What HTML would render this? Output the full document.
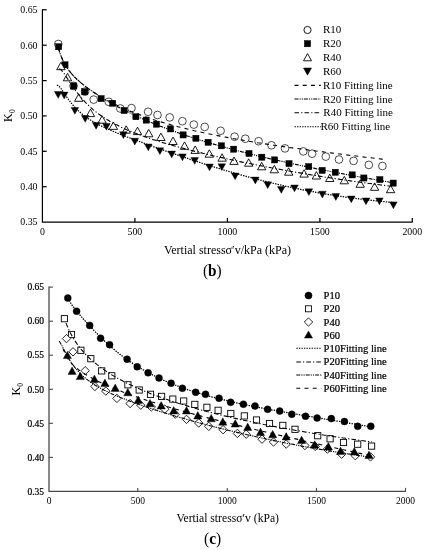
<!DOCTYPE html>
<html><head><meta charset="utf-8"><title>K0 vs vertical stress</title>
<style>html,body{margin:0;padding:0;background:#fff}body{width:427px;height:550px;overflow:hidden}.bt text{stroke:#000;stroke-width:.22px}.bt text.n{stroke:none}</style>
</head><body>
<svg width="427" height="550" viewBox="0 0 427 550" style="display:block">
<rect width="427" height="550" fill="#fff"/>
<g font-family="'Liberation Serif',serif" fill="#000">
<path d="M42.4 9.3 V222.1 H412.6" fill="none" stroke="#000" stroke-width="1.2"/>
<path d="M42.4 9.8 h4.2" stroke="#000" stroke-width="1.25"/>
<text x="37.5" y="13.1" font-size="9.9" text-anchor="end">0.65</text>
<path d="M42.4 45.2 h4.2" stroke="#000" stroke-width="1.25"/>
<text x="37.5" y="48.5" font-size="9.9" text-anchor="end">0.60</text>
<path d="M42.4 80.6 h4.2" stroke="#000" stroke-width="1.25"/>
<text x="37.5" y="83.9" font-size="9.9" text-anchor="end">0.55</text>
<path d="M42.4 115.9 h4.2" stroke="#000" stroke-width="1.25"/>
<text x="37.5" y="119.2" font-size="9.9" text-anchor="end">0.50</text>
<path d="M42.4 151.3 h4.2" stroke="#000" stroke-width="1.25"/>
<text x="37.5" y="154.6" font-size="9.9" text-anchor="end">0.45</text>
<path d="M42.4 186.7 h4.2" stroke="#000" stroke-width="1.25"/>
<text x="37.5" y="190.0" font-size="9.9" text-anchor="end">0.40</text>
<text x="37.5" y="225.4" font-size="9.9" text-anchor="end">0.35</text>
<text x="42.4" y="234.6" font-size="9.9" text-anchor="middle">0</text>
<path d="M134.9 222.1 v-4.2" stroke="#000" stroke-width="1.25"/>
<text x="134.9" y="234.6" font-size="9.9" text-anchor="middle">500</text>
<path d="M227.4 222.1 v-4.2" stroke="#000" stroke-width="1.25"/>
<text x="227.4" y="234.6" font-size="9.9" text-anchor="middle">1000</text>
<path d="M319.9 222.1 v-4.2" stroke="#000" stroke-width="1.25"/>
<text x="319.9" y="234.6" font-size="9.9" text-anchor="middle">1500</text>
<path d="M412.3 222.1 v-4.2" stroke="#000" stroke-width="1.25"/>
<text x="412.3" y="234.6" font-size="9.9" text-anchor="middle">2000</text>
<text x="227.5" y="254.1" font-size="12" text-anchor="middle">Vertial stressσ′v/kPa (kPa)</text>
<text transform="translate(11.9,115.6) rotate(-90)" font-size="12.2" text-anchor="middle">K<tspan font-size="7.5" dy="3.1">0</tspan></text>
<circle cx="58.3" cy="44.0" r="3.85" fill="#fff" stroke="#000" stroke-width="0.70"/><circle cx="73.5" cy="85.9" r="3.85" fill="#fff" stroke="#000" stroke-width="0.70"/><circle cx="85.0" cy="91.6" r="3.85" fill="#fff" stroke="#000" stroke-width="0.70"/><circle cx="93.7" cy="99.6" r="3.85" fill="#fff" stroke="#000" stroke-width="0.70"/><circle cx="108.7" cy="101.8" r="3.85" fill="#fff" stroke="#000" stroke-width="0.70"/><circle cx="120.3" cy="108.5" r="3.85" fill="#fff" stroke="#000" stroke-width="0.70"/><circle cx="131.5" cy="108.1" r="3.85" fill="#fff" stroke="#000" stroke-width="0.70"/><circle cx="148.1" cy="111.8" r="3.85" fill="#fff" stroke="#000" stroke-width="0.70"/><circle cx="157.5" cy="115.0" r="3.85" fill="#fff" stroke="#000" stroke-width="0.70"/><circle cx="169.7" cy="117.4" r="3.85" fill="#fff" stroke="#000" stroke-width="0.70"/><circle cx="182.4" cy="121.2" r="3.85" fill="#fff" stroke="#000" stroke-width="0.70"/><circle cx="193.8" cy="124.6" r="3.85" fill="#fff" stroke="#000" stroke-width="0.70"/><circle cx="204.7" cy="126.9" r="3.85" fill="#fff" stroke="#000" stroke-width="0.70"/><circle cx="220.6" cy="130.8" r="3.85" fill="#fff" stroke="#000" stroke-width="0.70"/><circle cx="234.6" cy="136.7" r="3.85" fill="#fff" stroke="#000" stroke-width="0.70"/><circle cx="245.3" cy="138.7" r="3.85" fill="#fff" stroke="#000" stroke-width="0.70"/><circle cx="258.6" cy="141.2" r="3.85" fill="#fff" stroke="#000" stroke-width="0.70"/><circle cx="271.5" cy="145.3" r="3.85" fill="#fff" stroke="#000" stroke-width="0.70"/><circle cx="285.0" cy="148.4" r="3.85" fill="#fff" stroke="#000" stroke-width="0.70"/><circle cx="303.3" cy="151.4" r="3.85" fill="#fff" stroke="#000" stroke-width="0.70"/><circle cx="312.1" cy="153.7" r="3.85" fill="#fff" stroke="#000" stroke-width="0.70"/><circle cx="325.8" cy="156.6" r="3.85" fill="#fff" stroke="#000" stroke-width="0.70"/><circle cx="339.0" cy="159.5" r="3.85" fill="#fff" stroke="#000" stroke-width="0.70"/><circle cx="353.6" cy="160.9" r="3.85" fill="#fff" stroke="#000" stroke-width="0.70"/><circle cx="368.8" cy="164.9" r="3.85" fill="#fff" stroke="#000" stroke-width="0.70"/><circle cx="382.4" cy="166.0" r="3.85" fill="#fff" stroke="#000" stroke-width="0.70"/>
<rect x="55.5" y="43.6" width="6.2" height="6.2" fill="#000" stroke="#000" stroke-width="0.40"/><rect x="61.9" y="61.7" width="6.2" height="6.2" fill="#000" stroke="#000" stroke-width="0.40"/><rect x="70.7" y="82.9" width="6.2" height="6.2" fill="#000" stroke="#000" stroke-width="0.40"/><rect x="81.7" y="88.7" width="6.2" height="6.2" fill="#000" stroke="#000" stroke-width="0.40"/><rect x="98.0" y="95.5" width="6.2" height="6.2" fill="#000" stroke="#000" stroke-width="0.40"/><rect x="109.6" y="100.2" width="6.2" height="6.2" fill="#000" stroke="#000" stroke-width="0.40"/><rect x="121.0" y="107.4" width="6.2" height="6.2" fill="#000" stroke="#000" stroke-width="0.40"/><rect x="132.8" y="113.6" width="6.2" height="6.2" fill="#000" stroke="#000" stroke-width="0.40"/><rect x="143.1" y="117.0" width="6.2" height="6.2" fill="#000" stroke="#000" stroke-width="0.40"/><rect x="153.4" y="121.1" width="6.2" height="6.2" fill="#000" stroke="#000" stroke-width="0.40"/><rect x="167.4" y="125.8" width="6.2" height="6.2" fill="#000" stroke="#000" stroke-width="0.40"/><rect x="180.0" y="131.8" width="6.2" height="6.2" fill="#000" stroke="#000" stroke-width="0.40"/><rect x="192.8" y="135.2" width="6.2" height="6.2" fill="#000" stroke="#000" stroke-width="0.40"/><rect x="205.0" y="139.2" width="6.2" height="6.2" fill="#000" stroke="#000" stroke-width="0.40"/><rect x="218.3" y="142.7" width="6.2" height="6.2" fill="#000" stroke="#000" stroke-width="0.40"/><rect x="230.5" y="146.1" width="6.2" height="6.2" fill="#000" stroke="#000" stroke-width="0.40"/><rect x="245.9" y="150.4" width="6.2" height="6.2" fill="#000" stroke="#000" stroke-width="0.40"/><rect x="258.7" y="154.1" width="6.2" height="6.2" fill="#000" stroke="#000" stroke-width="0.40"/><rect x="271.5" y="156.8" width="6.2" height="6.2" fill="#000" stroke="#000" stroke-width="0.40"/><rect x="285.9" y="160.5" width="6.2" height="6.2" fill="#000" stroke="#000" stroke-width="0.40"/><rect x="305.6" y="163.5" width="6.2" height="6.2" fill="#000" stroke="#000" stroke-width="0.40"/><rect x="319.1" y="167.3" width="6.2" height="6.2" fill="#000" stroke="#000" stroke-width="0.40"/><rect x="332.2" y="169.2" width="6.2" height="6.2" fill="#000" stroke="#000" stroke-width="0.40"/><rect x="349.1" y="171.8" width="6.2" height="6.2" fill="#000" stroke="#000" stroke-width="0.40"/><rect x="360.8" y="174.9" width="6.2" height="6.2" fill="#000" stroke="#000" stroke-width="0.40"/><rect x="376.8" y="176.5" width="6.2" height="6.2" fill="#000" stroke="#000" stroke-width="0.40"/><rect x="390.1" y="180.0" width="6.2" height="6.2" fill="#000" stroke="#000" stroke-width="0.40"/>
<path d="M60.9 62.3 L65.1 69.7 L56.7 69.7Z" fill="#fff" stroke="#000" stroke-width="0.90" stroke-linejoin="miter"/><path d="M67.5 73.4 L71.7 80.8 L63.3 80.8Z" fill="#fff" stroke="#000" stroke-width="0.90" stroke-linejoin="miter"/><path d="M78.7 93.9 L82.9 101.3 L74.5 101.3Z" fill="#fff" stroke="#000" stroke-width="0.90" stroke-linejoin="miter"/><path d="M90.5 109.2 L94.7 116.6 L86.3 116.6Z" fill="#fff" stroke="#000" stroke-width="0.90" stroke-linejoin="miter"/><path d="M102.1 115.8 L106.3 123.2 L97.9 123.2Z" fill="#fff" stroke="#000" stroke-width="0.90" stroke-linejoin="miter"/><path d="M113.4 122.0 L117.6 129.4 L109.2 129.4Z" fill="#fff" stroke="#000" stroke-width="0.90" stroke-linejoin="miter"/><path d="M126.2 125.8 L130.4 133.2 L122.0 133.2Z" fill="#fff" stroke="#000" stroke-width="0.90" stroke-linejoin="miter"/><path d="M137.5 127.2 L141.7 134.6 L133.3 134.6Z" fill="#fff" stroke="#000" stroke-width="0.90" stroke-linejoin="miter"/><path d="M148.7 129.4 L152.9 136.8 L144.5 136.8Z" fill="#fff" stroke="#000" stroke-width="0.90" stroke-linejoin="miter"/><path d="M160.9 133.1 L165.1 140.5 L156.7 140.5Z" fill="#fff" stroke="#000" stroke-width="0.90" stroke-linejoin="miter"/><path d="M173.0 137.1 L177.2 144.5 L168.8 144.5Z" fill="#fff" stroke="#000" stroke-width="0.90" stroke-linejoin="miter"/><path d="M184.5 141.9 L188.7 149.3 L180.3 149.3Z" fill="#fff" stroke="#000" stroke-width="0.90" stroke-linejoin="miter"/><path d="M195.2 146.0 L199.4 153.4 L191.0 153.4Z" fill="#fff" stroke="#000" stroke-width="0.90" stroke-linejoin="miter"/><path d="M209.3 149.8 L213.5 157.2 L205.1 157.2Z" fill="#fff" stroke="#000" stroke-width="0.90" stroke-linejoin="miter"/><path d="M222.1 153.8 L226.3 161.2 L217.9 161.2Z" fill="#fff" stroke="#000" stroke-width="0.90" stroke-linejoin="miter"/><path d="M234.0 157.0 L238.2 164.4 L229.8 164.4Z" fill="#fff" stroke="#000" stroke-width="0.90" stroke-linejoin="miter"/><path d="M248.7 158.8 L252.9 166.2 L244.5 166.2Z" fill="#fff" stroke="#000" stroke-width="0.90" stroke-linejoin="miter"/><path d="M261.7 162.4 L265.9 169.8 L257.5 169.8Z" fill="#fff" stroke="#000" stroke-width="0.90" stroke-linejoin="miter"/><path d="M274.3 165.4 L278.5 172.8 L270.1 172.8Z" fill="#fff" stroke="#000" stroke-width="0.90" stroke-linejoin="miter"/><path d="M288.7 167.8 L292.9 175.2 L284.5 175.2Z" fill="#fff" stroke="#000" stroke-width="0.90" stroke-linejoin="miter"/><path d="M304.1 169.7 L308.3 177.1 L299.9 177.1Z" fill="#fff" stroke="#000" stroke-width="0.90" stroke-linejoin="miter"/><path d="M316.4 171.6 L320.6 179.0 L312.2 179.0Z" fill="#fff" stroke="#000" stroke-width="0.90" stroke-linejoin="miter"/><path d="M329.8 174.1 L334.0 181.5 L325.6 181.5Z" fill="#fff" stroke="#000" stroke-width="0.90" stroke-linejoin="miter"/><path d="M344.3 176.4 L348.5 183.8 L340.1 183.8Z" fill="#fff" stroke="#000" stroke-width="0.90" stroke-linejoin="miter"/><path d="M360.2 179.9 L364.4 187.3 L356.0 187.3Z" fill="#fff" stroke="#000" stroke-width="0.90" stroke-linejoin="miter"/><path d="M374.6 182.9 L378.8 190.3 L370.4 190.3Z" fill="#fff" stroke="#000" stroke-width="0.90" stroke-linejoin="miter"/><path d="M390.6 185.3 L394.8 192.7 L386.4 192.7Z" fill="#fff" stroke="#000" stroke-width="0.90" stroke-linejoin="miter"/>
<path d="M58.2 98.3 L62.0 91.5 L54.4 91.5Z" fill="#000" stroke="#000" stroke-width="0.40" stroke-linejoin="miter"/><path d="M64.2 98.9 L68.0 92.1 L60.4 92.1Z" fill="#000" stroke="#000" stroke-width="0.40" stroke-linejoin="miter"/><path d="M74.9 114.2 L78.7 107.4 L71.1 107.4Z" fill="#000" stroke="#000" stroke-width="0.40" stroke-linejoin="miter"/><path d="M85.2 122.3 L89.0 115.5 L81.4 115.5Z" fill="#000" stroke="#000" stroke-width="0.40" stroke-linejoin="miter"/><path d="M96.1 129.2 L99.9 122.4 L92.3 122.4Z" fill="#000" stroke="#000" stroke-width="0.40" stroke-linejoin="miter"/><path d="M106.4 130.2 L110.2 123.4 L102.6 123.4Z" fill="#000" stroke="#000" stroke-width="0.40" stroke-linejoin="miter"/><path d="M123.4 138.6 L127.2 131.8 L119.6 131.8Z" fill="#000" stroke="#000" stroke-width="0.40" stroke-linejoin="miter"/><path d="M134.8 145.0 L138.6 138.2 L131.0 138.2Z" fill="#000" stroke="#000" stroke-width="0.40" stroke-linejoin="miter"/><path d="M148.3 150.8 L152.1 144.0 L144.5 144.0Z" fill="#000" stroke="#000" stroke-width="0.40" stroke-linejoin="miter"/><path d="M159.9 154.6 L163.7 147.8 L156.1 147.8Z" fill="#000" stroke="#000" stroke-width="0.40" stroke-linejoin="miter"/><path d="M171.7 157.9 L175.5 151.1 L167.9 151.1Z" fill="#000" stroke="#000" stroke-width="0.40" stroke-linejoin="miter"/><path d="M182.5 160.7 L186.3 153.9 L178.7 153.9Z" fill="#000" stroke="#000" stroke-width="0.40" stroke-linejoin="miter"/><path d="M194.7 164.3 L198.5 157.5 L190.9 157.5Z" fill="#000" stroke="#000" stroke-width="0.40" stroke-linejoin="miter"/><path d="M209.5 170.8 L213.3 164.0 L205.7 164.0Z" fill="#000" stroke="#000" stroke-width="0.40" stroke-linejoin="miter"/><path d="M221.8 170.6 L225.6 163.8 L218.0 163.8Z" fill="#000" stroke="#000" stroke-width="0.40" stroke-linejoin="miter"/><path d="M235.1 179.8 L238.9 173.0 L231.3 173.0Z" fill="#000" stroke="#000" stroke-width="0.40" stroke-linejoin="miter"/><path d="M255.3 183.9 L259.1 177.1 L251.5 177.1Z" fill="#000" stroke="#000" stroke-width="0.40" stroke-linejoin="miter"/><path d="M267.7 188.6 L271.5 181.8 L263.9 181.8Z" fill="#000" stroke="#000" stroke-width="0.40" stroke-linejoin="miter"/><path d="M281.3 193.3 L285.1 186.5 L277.5 186.5Z" fill="#000" stroke="#000" stroke-width="0.40" stroke-linejoin="miter"/><path d="M294.5 191.8 L298.3 185.0 L290.7 185.0Z" fill="#000" stroke="#000" stroke-width="0.40" stroke-linejoin="miter"/><path d="M308.9 195.6 L312.7 188.8 L305.1 188.8Z" fill="#000" stroke="#000" stroke-width="0.40" stroke-linejoin="miter"/><path d="M322.4 198.0 L326.2 191.2 L318.6 191.2Z" fill="#000" stroke="#000" stroke-width="0.40" stroke-linejoin="miter"/><path d="M335.8 200.4 L339.6 193.6 L332.0 193.6Z" fill="#000" stroke="#000" stroke-width="0.40" stroke-linejoin="miter"/><path d="M351.3 202.8 L355.1 196.0 L347.5 196.0Z" fill="#000" stroke="#000" stroke-width="0.40" stroke-linejoin="miter"/><path d="M366.0 204.7 L369.8 197.9 L362.2 197.9Z" fill="#000" stroke="#000" stroke-width="0.40" stroke-linejoin="miter"/><path d="M379.4 204.7 L383.2 197.9 L375.6 197.9Z" fill="#000" stroke="#000" stroke-width="0.40" stroke-linejoin="miter"/><path d="M393.4 208.7 L397.2 201.9 L389.6 201.9Z" fill="#000" stroke="#000" stroke-width="0.40" stroke-linejoin="miter"/>
<path d="M58.5 48.5 L60.8 55.6 L63.2 61.0 L65.5 65.4 L67.9 69.0 L70.2 72.1 L72.6 74.9 L74.9 77.3 L77.2 79.6 L79.6 81.8 L81.9 83.7 L84.3 85.6 L86.6 87.4 L88.9 89.1 L91.3 90.8 L93.6 92.3 L96.0 93.8 L98.3 95.3 L100.7 96.7 L103.0 98.0 L105.3 99.4 L107.7 100.6 L110.0 101.9 L112.4 103.1 L114.7 104.2 L117.0 105.3 L119.4 106.4 L121.7 107.5 L124.1 108.5 L126.4 109.6 L128.8 110.5 L131.1 111.5 L133.4 112.4 L135.8 113.3 L138.1 114.2 L140.5 115.1 L142.8 116.0 L145.1 116.8 L147.5 117.6 L149.8 118.4 L152.2 119.2 L154.5 119.9 L156.9 120.7 L159.2 121.4 L161.5 122.1 L163.9 122.8 L166.2 123.5 L168.6 124.1 L170.9 124.8 L173.2 125.4 L175.6 126.0 L177.9 126.7 L180.3 127.3 L182.6 127.9 L185.0 128.4 L187.3 129.0 L189.6 129.6 L192.0 130.1 L194.3 130.7 L196.7 131.2 L199.0 131.7 L201.3 132.2 L203.7 132.8 L206.0 133.3 L208.4 133.8 L210.7 134.2 L213.1 134.7 L215.4 135.2 L217.7 135.6 L220.1 136.1 L222.4 136.6 L224.8 137.0 L227.1 137.4 L229.4 137.9 L231.8 138.3 L234.1 138.7 L236.5 139.1 L238.8 139.5 L241.2 139.9 L243.5 140.3 L245.8 140.7 L248.2 141.1 L250.5 141.5 L252.9 141.9 L255.2 142.3 L257.5 142.7 L259.9 143.0 L262.2 143.4 L264.6 143.8 L266.9 144.1 L269.3 144.5 L271.6 144.8 L273.9 145.2 L276.3 145.5 L278.6 145.9 L281.0 146.2 L283.3 146.6 L285.6 146.9 L288.0 147.2 L290.3 147.6 L292.7 147.9 L295.0 148.2 L297.4 148.5 L299.7 148.8 L302.0 149.2 L304.4 149.5 L306.7 149.8 L309.1 150.1 L311.4 150.4 L313.7 150.7 L316.1 151.0 L318.4 151.3 L320.8 151.6 L323.1 151.9 L325.5 152.2 L327.8 152.5 L330.1 152.8 L332.5 153.1 L334.8 153.4 L337.2 153.7 L339.5 154.0 L341.8 154.3 L344.2 154.6 L346.5 154.9 L348.9 155.2 L351.2 155.5 L353.6 155.7 L355.9 156.0 L358.2 156.3 L360.6 156.6 L362.9 156.9 L365.3 157.2 L367.6 157.4 L369.9 157.7 L372.3 158.0 L374.6 158.3 L377.0 158.5 L379.3 158.8 L381.7 159.1 L384.0 159.4" fill="none" stroke="#000" stroke-width="1.10" stroke-dasharray="4 4.2"/>
<path d="M58.5 48.4 L60.6 55.0 L62.7 60.1 L64.8 64.2 L66.9 67.6 L69.1 70.6 L71.2 73.2 L73.3 75.6 L75.4 77.7 L77.5 79.7 L79.6 81.6 L81.7 83.4 L83.8 85.1 L85.9 86.8 L88.0 88.4 L90.2 89.9 L92.3 91.4 L94.4 92.8 L96.5 94.2 L98.6 95.6 L100.7 96.9 L102.8 98.2 L104.9 99.5 L107.0 100.8 L109.1 102.0 L111.3 103.2 L113.4 104.4 L115.5 105.6 L117.6 106.7 L119.7 107.8 L121.8 108.9 L123.9 110.0 L126.0 111.1 L128.1 112.1 L130.2 113.1 L132.4 114.1 L134.5 115.1 L136.6 116.1 L138.7 117.1 L140.8 118.0 L142.9 119.0 L145.0 119.9 L147.1 120.8 L149.2 121.7 L151.3 122.6 L153.5 123.4 L155.6 124.3 L157.7 125.1 L159.8 126.0 L161.9 126.8 L164.0 127.6 L166.1 128.4 L168.2 129.2 L170.3 130.0 L172.4 130.7 L174.6 131.5 L176.7 132.3 L178.8 133.0 L180.9 133.7 L183.0 134.5 L185.1 135.2 L187.2 135.9 L189.3 136.6 L191.4 137.3 L193.5 138.0 L195.7 138.6 L197.8 139.3 L199.9 140.0 L202.0 140.6 L204.1 141.3 L206.2 141.9 L208.3 142.5 L210.4 143.2 L212.5 143.8 L214.6 144.4 L216.8 145.0 L218.9 145.6 L221.0 146.2 L223.1 146.8 L225.2 147.4 L227.3 148.0 L229.4 148.5 L231.5 149.1 L233.6 149.7 L235.7 150.2 L237.9 150.8 L240.0 151.3 L242.1 151.9 L244.2 152.4 L246.3 153.0 L248.4 153.5 L250.5 154.0 L252.6 154.5 L254.7 155.0 L256.8 155.6 L259.0 156.1 L261.1 156.6 L263.2 157.1 L265.3 157.6 L267.4 158.1 L269.5 158.6 L271.6 159.0 L273.7 159.5 L275.8 160.0 L277.9 160.5 L280.1 161.0 L282.2 161.4 L284.3 161.9 L286.4 162.4 L288.5 162.8 L290.6 163.3 L292.7 163.7 L294.8 164.2 L296.9 164.6 L299.0 165.1 L301.2 165.5 L303.3 166.0 L305.4 166.4 L307.5 166.8 L309.6 167.3 L311.7 167.7 L313.8 168.1 L315.9 168.6 L318.0 169.0 L320.1 169.4 L322.3 169.8 L324.4 170.2 L326.5 170.6 L328.6 171.1 L330.7 171.5 L332.8 171.9 L334.9 172.3 L337.0 172.7 L339.1 173.1 L341.2 173.5 L343.4 173.9 L345.5 174.3 L347.6 174.7 L349.7 175.1 L351.8 175.5 L353.9 175.8 L356.0 176.2 L358.1 176.6 L360.2 177.0 L362.3 177.4 L364.5 177.8 L366.6 178.1 L368.7 178.5 L370.8 178.9 L372.9 179.3 L375.0 179.6 L377.1 180.0 L379.2 180.4 L381.3 180.7 L383.4 181.1 L385.6 181.5 L387.7 181.8 L389.8 182.2 L391.9 182.6 L394.0 182.9" fill="none" stroke="#000" stroke-width="1.10" stroke-dasharray="4 1 1.2 1 1.2 1"/>
<path d="M59.2 68.6 L61.6 70.4 L64.0 73.4 L66.4 77.0 L68.8 80.7 L71.2 84.3 L73.7 87.8 L76.1 91.2 L78.5 94.3 L80.9 97.3 L83.3 100.0 L85.7 102.6 L88.1 105.0 L90.5 107.3 L92.9 109.4 L95.3 111.4 L97.7 113.3 L100.1 115.0 L102.6 116.7 L105.0 118.3 L107.4 119.8 L109.8 121.2 L112.2 122.6 L114.6 123.9 L117.0 125.1 L119.4 126.3 L121.8 127.5 L124.2 128.6 L126.6 129.7 L129.1 130.7 L131.5 131.7 L133.9 132.7 L136.3 133.6 L138.7 134.5 L141.1 135.4 L143.5 136.3 L145.9 137.1 L148.3 138.0 L150.7 138.8 L153.1 139.6 L155.5 140.3 L158.0 141.1 L160.4 141.8 L162.8 142.6 L165.2 143.3 L167.6 144.0 L170.0 144.7 L172.4 145.4 L174.8 146.0 L177.2 146.7 L179.6 147.4 L182.0 148.0 L184.4 148.6 L186.9 149.3 L189.3 149.9 L191.7 150.5 L194.1 151.1 L196.5 151.7 L198.9 152.3 L201.3 152.9 L203.7 153.5 L206.1 154.1 L208.5 154.6 L210.9 155.2 L213.4 155.8 L215.8 156.3 L218.2 156.9 L220.6 157.4 L223.0 157.9 L225.4 158.5 L227.8 159.0 L230.2 159.5 L232.6 160.0 L235.0 160.5 L237.4 161.1 L239.8 161.6 L242.3 162.1 L244.7 162.6 L247.1 163.1 L249.5 163.5 L251.9 164.0 L254.3 164.5 L256.7 165.0 L259.1 165.5 L261.5 165.9 L263.9 166.4 L266.3 166.9 L268.8 167.3 L271.2 167.8 L273.6 168.2 L276.0 168.7 L278.4 169.1 L280.8 169.5 L283.2 170.0 L285.6 170.4 L288.0 170.8 L290.4 171.3 L292.8 171.7 L295.2 172.1 L297.7 172.5 L300.1 172.9 L302.5 173.4 L304.9 173.8 L307.3 174.2 L309.7 174.6 L312.1 175.0 L314.5 175.3 L316.9 175.7 L319.3 176.1 L321.7 176.5 L324.1 176.9 L326.6 177.3 L329.0 177.6 L331.4 178.0 L333.8 178.4 L336.2 178.7 L338.6 179.1 L341.0 179.5 L343.4 179.8 L345.8 180.2 L348.2 180.5 L350.6 180.9 L353.1 181.2 L355.5 181.5 L357.9 181.9 L360.3 182.2 L362.7 182.5 L365.1 182.9 L367.5 183.2 L369.9 183.5 L372.3 183.8 L374.7 184.2 L377.1 184.5 L379.5 184.8 L382.0 185.1 L384.4 185.4 L386.8 185.7 L389.2 186.0 L391.6 186.3 L394.0 186.6" fill="none" stroke="#000" stroke-width="1.10" stroke-dasharray="4.6 2.1 1.2 2.1"/>
<path d="M56.9 85.0 L59.3 86.6 L61.8 89.7 L64.2 93.3 L66.6 96.9 L69.0 100.2 L71.5 103.4 L73.9 106.2 L76.3 108.8 L78.7 111.1 L81.2 113.3 L83.6 115.3 L86.0 117.1 L88.4 118.7 L90.9 120.3 L93.3 121.7 L95.7 123.1 L98.1 124.4 L100.6 125.6 L103.0 126.8 L105.4 127.9 L107.8 129.0 L110.3 130.1 L112.7 131.2 L115.1 132.2 L117.5 133.2 L120.0 134.1 L122.4 135.1 L124.8 136.0 L127.2 137.0 L129.7 137.9 L132.1 138.8 L134.5 139.7 L136.9 140.6 L139.4 141.5 L141.8 142.4 L144.2 143.3 L146.6 144.2 L149.1 145.1 L151.5 145.9 L153.9 146.8 L156.3 147.7 L158.8 148.5 L161.2 149.4 L163.6 150.2 L166.0 151.1 L168.5 151.9 L170.9 152.8 L173.3 153.6 L175.7 154.4 L178.2 155.3 L180.6 156.1 L183.0 156.9 L185.4 157.7 L187.9 158.5 L190.3 159.4 L192.7 160.2 L195.1 160.9 L197.6 161.7 L200.0 162.5 L202.4 163.3 L204.8 164.1 L207.3 164.9 L209.7 165.6 L212.1 166.4 L214.5 167.1 L217.0 167.9 L219.4 168.6 L221.8 169.3 L224.2 170.1 L226.7 170.8 L229.1 171.5 L231.5 172.2 L233.9 172.9 L236.4 173.6 L238.8 174.3 L241.2 175.0 L243.6 175.6 L246.1 176.3 L248.5 177.0 L250.9 177.6 L253.3 178.3 L255.8 178.9 L258.2 179.5 L260.6 180.2 L263.0 180.8 L265.5 181.4 L267.9 182.0 L270.3 182.6 L272.7 183.2 L275.2 183.7 L277.6 184.3 L280.0 184.9 L282.4 185.4 L284.9 186.0 L287.3 186.5 L289.7 187.0 L292.1 187.6 L294.6 188.1 L297.0 188.6 L299.4 189.1 L301.8 189.6 L304.3 190.1 L306.7 190.5 L309.1 191.0 L311.5 191.5 L314.0 191.9 L316.4 192.4 L318.8 192.8 L321.2 193.2 L323.7 193.7 L326.1 194.1 L328.5 194.5 L330.9 194.9 L333.4 195.3 L335.8 195.6 L338.2 196.0 L340.6 196.4 L343.1 196.7 L345.5 197.1 L347.9 197.4 L350.3 197.8 L352.8 198.1 L355.2 198.4 L357.6 198.7 L360.0 199.0 L362.5 199.3 L364.9 199.6 L367.3 199.9 L369.7 200.2 L372.2 200.4 L374.6 200.7 L377.0 200.9 L379.4 201.2 L381.9 201.4 L384.3 201.7 L386.7 201.9 L389.1 202.1 L391.6 202.3 L394.0 202.5" fill="none" stroke="#000" stroke-width="1.30" stroke-dasharray="1.4 1.15"/>
<circle cx="307.5" cy="30.0" r="3.60" fill="#fff" stroke="#000" stroke-width="0.90"/>
<rect x="304.4" y="40.6" width="6.2" height="6.2" fill="#000" stroke="#000" stroke-width="0.50"/>
<path d="M307.5 53.6 L311.5 60.8 L303.5 60.8Z" fill="#fff" stroke="#000" stroke-width="0.90" stroke-linejoin="miter"/>
<path d="M307.5 75.2 L311.5 68.0 L303.5 68.0Z" fill="#000" stroke="#000" stroke-width="0.50" stroke-linejoin="miter"/>
<text x="323" y="33.3" font-size="11">R10</text>
<text x="323" y="47.2" font-size="11">R20</text>
<text x="323" y="61.3" font-size="11">R40</text>
<text x="323" y="75.1" font-size="11">R60</text>
<path d="M294.5 85.4 L320.8 85.4" fill="none" stroke="#000" stroke-width="1.10" stroke-dasharray="4 4.2"/>
<text x="323.0" y="88.9" font-size="11">R10 Fitting line</text>
<path d="M294.5 99.0 L320.8 99.0" fill="none" stroke="#000" stroke-width="1.10" stroke-dasharray="4 1 1.2 1 1.2 1"/>
<text x="323.0" y="102.6" font-size="11">R20 Fitting line</text>
<path d="M294.5 112.8 L320.8 112.8" fill="none" stroke="#000" stroke-width="1.10" stroke-dasharray="4.6 2.1 1.2 2.1"/>
<text x="323.3" y="116.4" font-size="11">R40 Fitting line</text>
<path d="M294.5 126.7 L320.8 126.7" fill="none" stroke="#000" stroke-width="1.10" stroke-dasharray="1.4 1.15"/>
<text x="320.5" y="130.1" font-size="11">R60 Fitting line</text>
<text transform="translate(212.3,276) scale(1.02,1.12)" font-size="15" text-anchor="middle">(<tspan font-weight="bold">b</tspan>)</text>
</g>
<g class="bt" font-family="'Liberation Serif',serif" fill="#000">
<path d="M49.0 286.6 V491.4 H405.9" fill="none" stroke="#4a4a4a" stroke-width="1.3"/>
<path d="M49.0 287.1 h4" stroke="#4a4a4a" stroke-width="1.1"/>
<text x="44" y="290.3" font-size="9.5" text-anchor="end">0.65</text>
<path d="M49.0 321.2 h4" stroke="#4a4a4a" stroke-width="1.1"/>
<text x="44" y="324.4" font-size="9.5" text-anchor="end">0.60</text>
<path d="M49.0 355.2 h4" stroke="#4a4a4a" stroke-width="1.1"/>
<text x="44" y="358.4" font-size="9.5" text-anchor="end">0.55</text>
<path d="M49.0 389.3 h4" stroke="#4a4a4a" stroke-width="1.1"/>
<text x="44" y="392.5" font-size="9.5" text-anchor="end">0.50</text>
<path d="M49.0 423.3 h4" stroke="#4a4a4a" stroke-width="1.1"/>
<text x="44" y="426.5" font-size="9.5" text-anchor="end">0.45</text>
<path d="M49.0 457.4 h4" stroke="#4a4a4a" stroke-width="1.1"/>
<text x="44" y="460.6" font-size="9.5" text-anchor="end">0.40</text>
<text x="44" y="494.6" font-size="9.5" text-anchor="end">0.35</text>
<text class="n" x="49.0" y="503.6" font-size="9.5" text-anchor="middle">0</text>
<path d="M137.8 491.4 v-3.5" stroke="#4a4a4a" stroke-width="1.1"/>
<text class="n" x="137.8" y="503.6" font-size="9.5" text-anchor="middle">500</text>
<path d="M227.3 491.4 v-3.5" stroke="#4a4a4a" stroke-width="1.1"/>
<text class="n" x="227.3" y="503.6" font-size="9.5" text-anchor="middle">1000</text>
<path d="M316.5 491.4 v-3.5" stroke="#4a4a4a" stroke-width="1.1"/>
<text class="n" x="316.5" y="503.6" font-size="9.5" text-anchor="middle">1500</text>
<path d="M405.5 491.4 v-3.5" stroke="#4a4a4a" stroke-width="1.1"/>
<text class="n" x="405.5" y="503.6" font-size="9.5" text-anchor="middle">2000</text>
<text class="n" x="227.7" y="521.5" font-size="11.65" text-anchor="middle">Vertial stressσ′v (kPa)</text>
<text class="n" transform="translate(19.8,389.3) rotate(-90)" font-size="12.2" text-anchor="middle">K<tspan font-size="7.5" dy="3.1">0</tspan></text>
<circle cx="67.8" cy="298.1" r="3.50" fill="#000" stroke="#000" stroke-width="0.40"/><circle cx="76.6" cy="311.2" r="3.50" fill="#000" stroke="#000" stroke-width="0.40"/><circle cx="89.7" cy="325.4" r="3.50" fill="#000" stroke="#000" stroke-width="0.40"/><circle cx="100.6" cy="338.2" r="3.50" fill="#000" stroke="#000" stroke-width="0.40"/><circle cx="109.6" cy="344.8" r="3.50" fill="#000" stroke="#000" stroke-width="0.40"/><circle cx="127.1" cy="359.2" r="3.50" fill="#000" stroke="#000" stroke-width="0.40"/><circle cx="137.2" cy="366.8" r="3.50" fill="#000" stroke="#000" stroke-width="0.40"/><circle cx="148.1" cy="372.8" r="3.50" fill="#000" stroke="#000" stroke-width="0.40"/><circle cx="159.0" cy="378.0" r="3.50" fill="#000" stroke="#000" stroke-width="0.40"/><circle cx="171.1" cy="383.2" r="3.50" fill="#000" stroke="#000" stroke-width="0.40"/><circle cx="182.4" cy="388.3" r="3.50" fill="#000" stroke="#000" stroke-width="0.40"/><circle cx="195.7" cy="392.3" r="3.50" fill="#000" stroke="#000" stroke-width="0.40"/><circle cx="205.5" cy="394.3" r="3.50" fill="#000" stroke="#000" stroke-width="0.40"/><circle cx="219.0" cy="398.2" r="3.50" fill="#000" stroke="#000" stroke-width="0.40"/><circle cx="230.6" cy="402.3" r="3.50" fill="#000" stroke="#000" stroke-width="0.40"/><circle cx="243.4" cy="404.2" r="3.50" fill="#000" stroke="#000" stroke-width="0.40"/><circle cx="255.0" cy="406.1" r="3.50" fill="#000" stroke="#000" stroke-width="0.40"/><circle cx="267.6" cy="409.3" r="3.50" fill="#000" stroke="#000" stroke-width="0.40"/><circle cx="279.7" cy="411.1" r="3.50" fill="#000" stroke="#000" stroke-width="0.40"/><circle cx="291.8" cy="414.3" r="3.50" fill="#000" stroke="#000" stroke-width="0.40"/><circle cx="305.5" cy="416.3" r="3.50" fill="#000" stroke="#000" stroke-width="0.40"/><circle cx="317.1" cy="418.0" r="3.50" fill="#000" stroke="#000" stroke-width="0.40"/><circle cx="331.3" cy="418.6" r="3.50" fill="#000" stroke="#000" stroke-width="0.40"/><circle cx="344.4" cy="421.5" r="3.50" fill="#000" stroke="#000" stroke-width="0.40"/><circle cx="357.7" cy="426.3" r="3.50" fill="#000" stroke="#000" stroke-width="0.40"/><circle cx="370.8" cy="426.3" r="3.50" fill="#000" stroke="#000" stroke-width="0.40"/>
<rect x="61.3" y="315.6" width="6.2" height="6.2" fill="#fff" stroke="#000" stroke-width="0.90"/><rect x="68.4" y="331.4" width="6.2" height="6.2" fill="#fff" stroke="#000" stroke-width="0.90"/><rect x="77.8" y="347.2" width="6.2" height="6.2" fill="#fff" stroke="#000" stroke-width="0.90"/><rect x="87.7" y="355.6" width="6.2" height="6.2" fill="#fff" stroke="#000" stroke-width="0.90"/><rect x="98.6" y="367.8" width="6.2" height="6.2" fill="#fff" stroke="#000" stroke-width="0.90"/><rect x="108.7" y="372.7" width="6.2" height="6.2" fill="#fff" stroke="#000" stroke-width="0.90"/><rect x="124.8" y="381.7" width="6.2" height="6.2" fill="#fff" stroke="#000" stroke-width="0.90"/><rect x="136.1" y="386.9" width="6.2" height="6.2" fill="#fff" stroke="#000" stroke-width="0.90"/><rect x="147.4" y="391.2" width="6.2" height="6.2" fill="#fff" stroke="#000" stroke-width="0.90"/><rect x="158.5" y="393.3" width="6.2" height="6.2" fill="#fff" stroke="#000" stroke-width="0.90"/><rect x="169.7" y="396.0" width="6.2" height="6.2" fill="#fff" stroke="#000" stroke-width="0.90"/><rect x="180.6" y="397.9" width="6.2" height="6.2" fill="#fff" stroke="#000" stroke-width="0.90"/><rect x="191.7" y="401.3" width="6.2" height="6.2" fill="#fff" stroke="#000" stroke-width="0.90"/><rect x="203.8" y="404.2" width="6.2" height="6.2" fill="#fff" stroke="#000" stroke-width="0.90"/><rect x="215.0" y="407.2" width="6.2" height="6.2" fill="#fff" stroke="#000" stroke-width="0.90"/><rect x="227.7" y="410.4" width="6.2" height="6.2" fill="#fff" stroke="#000" stroke-width="0.90"/><rect x="241.2" y="412.8" width="6.2" height="6.2" fill="#fff" stroke="#000" stroke-width="0.90"/><rect x="253.4" y="416.9" width="6.2" height="6.2" fill="#fff" stroke="#000" stroke-width="0.90"/><rect x="266.4" y="420.4" width="6.2" height="6.2" fill="#fff" stroke="#000" stroke-width="0.90"/><rect x="279.7" y="422.3" width="6.2" height="6.2" fill="#fff" stroke="#000" stroke-width="0.90"/><rect x="291.9" y="426.2" width="6.2" height="6.2" fill="#fff" stroke="#000" stroke-width="0.90"/><rect x="314.6" y="432.6" width="6.2" height="6.2" fill="#fff" stroke="#000" stroke-width="0.90"/><rect x="327.0" y="435.7" width="6.2" height="6.2" fill="#fff" stroke="#000" stroke-width="0.90"/><rect x="340.4" y="439.4" width="6.2" height="6.2" fill="#fff" stroke="#000" stroke-width="0.90"/><rect x="354.6" y="441.1" width="6.2" height="6.2" fill="#fff" stroke="#000" stroke-width="0.90"/><rect x="368.5" y="443.0" width="6.2" height="6.2" fill="#fff" stroke="#000" stroke-width="0.90"/>
<path d="M66.5 334.4 L70.7 338.6 L66.5 342.8 L62.3 338.6Z" fill="#fff" stroke="#000" stroke-width="0.85"/><path d="M73.0 347.6 L77.2 351.8 L73.0 356.0 L68.8 351.8Z" fill="#fff" stroke="#000" stroke-width="0.85"/><path d="M85.2 366.5 L89.4 370.7 L85.2 374.9 L81.0 370.7Z" fill="#fff" stroke="#000" stroke-width="0.85"/><path d="M94.9 382.3 L99.1 386.5 L94.9 390.7 L90.7 386.5Z" fill="#fff" stroke="#000" stroke-width="0.85"/><path d="M105.8 386.9 L110.0 391.1 L105.8 395.3 L101.6 391.1Z" fill="#fff" stroke="#000" stroke-width="0.85"/><path d="M116.9 394.2 L121.1 398.4 L116.9 402.6 L112.7 398.4Z" fill="#fff" stroke="#000" stroke-width="0.85"/><path d="M130.1 399.3 L134.3 403.5 L130.1 407.7 L125.9 403.5Z" fill="#fff" stroke="#000" stroke-width="0.85"/><path d="M140.8 401.0 L145.0 405.2 L140.8 409.4 L136.6 405.2Z" fill="#fff" stroke="#000" stroke-width="0.85"/><path d="M151.3 402.8 L155.5 407.0 L151.3 411.2 L147.1 407.0Z" fill="#fff" stroke="#000" stroke-width="0.85"/><path d="M164.8 405.0 L169.0 409.2 L164.8 413.4 L160.6 409.2Z" fill="#fff" stroke="#000" stroke-width="0.85"/><path d="M175.2 410.0 L179.4 414.2 L175.2 418.4 L171.0 414.2Z" fill="#fff" stroke="#000" stroke-width="0.85"/><path d="M186.5 415.2 L190.7 419.4 L186.5 423.6 L182.3 419.4Z" fill="#fff" stroke="#000" stroke-width="0.85"/><path d="M198.7 418.8 L202.9 423.0 L198.7 427.2 L194.5 423.0Z" fill="#fff" stroke="#000" stroke-width="0.85"/><path d="M208.7 422.1 L212.9 426.3 L208.7 430.5 L204.5 426.3Z" fill="#fff" stroke="#000" stroke-width="0.85"/><path d="M223.1 425.5 L227.3 429.7 L223.1 433.9 L218.9 429.7Z" fill="#fff" stroke="#000" stroke-width="0.85"/><path d="M237.4 429.2 L241.6 433.4 L237.4 437.6 L233.2 433.4Z" fill="#fff" stroke="#000" stroke-width="0.85"/><path d="M246.2 430.0 L250.4 434.2 L246.2 438.4 L242.0 434.2Z" fill="#fff" stroke="#000" stroke-width="0.85"/><path d="M262.0 435.0 L266.2 439.2 L262.0 443.4 L257.8 439.2Z" fill="#fff" stroke="#000" stroke-width="0.85"/><path d="M273.5 437.8 L277.7 442.0 L273.5 446.2 L269.3 442.0Z" fill="#fff" stroke="#000" stroke-width="0.85"/><path d="M286.2 439.9 L290.4 444.1 L286.2 448.3 L282.0 444.1Z" fill="#fff" stroke="#000" stroke-width="0.85"/><path d="M304.9 441.3 L309.1 445.5 L304.9 449.7 L300.7 445.5Z" fill="#fff" stroke="#000" stroke-width="0.85"/><path d="M315.2 442.2 L319.4 446.4 L315.2 450.6 L311.0 446.4Z" fill="#fff" stroke="#000" stroke-width="0.85"/><path d="M327.4 444.9 L331.6 449.1 L327.4 453.3 L323.2 449.1Z" fill="#fff" stroke="#000" stroke-width="0.85"/><path d="M341.6 450.0 L345.8 454.2 L341.6 458.4 L337.4 454.2Z" fill="#fff" stroke="#000" stroke-width="0.85"/><path d="M355.3 451.5 L359.5 455.7 L355.3 459.9 L351.1 455.7Z" fill="#fff" stroke="#000" stroke-width="0.85"/><path d="M370.5 452.7 L374.7 456.9 L370.5 461.1 L366.3 456.9Z" fill="#fff" stroke="#000" stroke-width="0.85"/>
<path d="M67.4 351.2 L71.5 358.6 L63.3 358.6Z" fill="#000" stroke="#000" stroke-width="0.40" stroke-linejoin="miter"/><path d="M72.1 367.0 L76.2 374.4 L68.0 374.4Z" fill="#000" stroke="#000" stroke-width="0.40" stroke-linejoin="miter"/><path d="M80.2 372.2 L84.3 379.6 L76.1 379.6Z" fill="#000" stroke="#000" stroke-width="0.40" stroke-linejoin="miter"/><path d="M94.4 375.0 L98.5 382.4 L90.3 382.4Z" fill="#000" stroke="#000" stroke-width="0.40" stroke-linejoin="miter"/><path d="M104.9 379.0 L109.0 386.4 L100.8 386.4Z" fill="#000" stroke="#000" stroke-width="0.40" stroke-linejoin="miter"/><path d="M115.2 384.0 L119.3 391.4 L111.1 391.4Z" fill="#000" stroke="#000" stroke-width="0.40" stroke-linejoin="miter"/><path d="M127.8 388.4 L131.9 395.8 L123.7 395.8Z" fill="#000" stroke="#000" stroke-width="0.40" stroke-linejoin="miter"/><path d="M138.2 396.0 L142.3 403.4 L134.1 403.4Z" fill="#000" stroke="#000" stroke-width="0.40" stroke-linejoin="miter"/><path d="M150.0 399.4 L154.1 406.8 L145.9 406.8Z" fill="#000" stroke="#000" stroke-width="0.40" stroke-linejoin="miter"/><path d="M161.2 401.6 L165.3 409.0 L157.1 409.0Z" fill="#000" stroke="#000" stroke-width="0.40" stroke-linejoin="miter"/><path d="M173.7 406.6 L177.8 414.0 L169.6 414.0Z" fill="#000" stroke="#000" stroke-width="0.40" stroke-linejoin="miter"/><path d="M186.5 406.6 L190.6 414.0 L182.4 414.0Z" fill="#000" stroke="#000" stroke-width="0.40" stroke-linejoin="miter"/><path d="M197.8 411.6 L201.9 419.0 L193.7 419.0Z" fill="#000" stroke="#000" stroke-width="0.40" stroke-linejoin="miter"/><path d="M211.2 414.4 L215.3 421.8 L207.1 421.8Z" fill="#000" stroke="#000" stroke-width="0.40" stroke-linejoin="miter"/><path d="M222.8 417.8 L226.9 425.2 L218.7 425.2Z" fill="#000" stroke="#000" stroke-width="0.40" stroke-linejoin="miter"/><path d="M235.3 419.7 L239.4 427.1 L231.2 427.1Z" fill="#000" stroke="#000" stroke-width="0.40" stroke-linejoin="miter"/><path d="M247.7 423.1 L251.8 430.5 L243.6 430.5Z" fill="#000" stroke="#000" stroke-width="0.40" stroke-linejoin="miter"/><path d="M260.5 428.1 L264.6 435.5 L256.4 435.5Z" fill="#000" stroke="#000" stroke-width="0.40" stroke-linejoin="miter"/><path d="M272.7 430.4 L276.8 437.8 L268.6 437.8Z" fill="#000" stroke="#000" stroke-width="0.40" stroke-linejoin="miter"/><path d="M286.2 432.6 L290.3 440.0 L282.1 440.0Z" fill="#000" stroke="#000" stroke-width="0.40" stroke-linejoin="miter"/><path d="M301.6 436.1 L305.7 443.5 L297.5 443.5Z" fill="#000" stroke="#000" stroke-width="0.40" stroke-linejoin="miter"/><path d="M314.7 440.7 L318.8 448.1 L310.6 448.1Z" fill="#000" stroke="#000" stroke-width="0.40" stroke-linejoin="miter"/><path d="M328.4 442.6 L332.5 450.0 L324.3 450.0Z" fill="#000" stroke="#000" stroke-width="0.40" stroke-linejoin="miter"/><path d="M340.5 447.1 L344.6 454.5 L336.4 454.5Z" fill="#000" stroke="#000" stroke-width="0.40" stroke-linejoin="miter"/><path d="M354.3 447.6 L358.4 455.0 L350.2 455.0Z" fill="#000" stroke="#000" stroke-width="0.40" stroke-linejoin="miter"/><path d="M369.0 451.1 L373.1 458.5 L364.9 458.5Z" fill="#000" stroke="#000" stroke-width="0.40" stroke-linejoin="miter"/>
<path d="M67.8 298.1 L70.0 302.0 L72.2 305.3 L74.4 308.2 L76.6 311.0 L78.7 313.6 L80.9 316.2 L83.1 318.7 L85.3 321.1 L87.5 323.5 L89.7 325.9 L91.9 328.3 L94.1 330.6 L96.3 332.8 L98.4 335.0 L100.6 337.2 L102.8 339.3 L105.0 341.4 L107.2 343.4 L109.4 345.4 L111.6 347.3 L113.8 349.2 L115.9 351.0 L118.1 352.8 L120.3 354.5 L122.5 356.2 L124.7 357.8 L126.9 359.4 L129.1 360.9 L131.3 362.4 L133.5 363.9 L135.6 365.3 L137.8 366.6 L140.0 368.0 L142.2 369.3 L144.4 370.5 L146.6 371.8 L148.8 373.0 L151.0 374.1 L153.2 375.2 L155.3 376.3 L157.5 377.4 L159.7 378.4 L161.9 379.5 L164.1 380.4 L166.3 381.4 L168.5 382.3 L170.7 383.2 L172.8 384.1 L175.0 385.0 L177.2 385.8 L179.4 386.7 L181.6 387.5 L183.8 388.2 L186.0 389.0 L188.2 389.8 L190.4 390.5 L192.5 391.2 L194.7 391.9 L196.9 392.6 L199.1 393.2 L201.3 393.9 L203.5 394.5 L205.7 395.2 L207.9 395.8 L210.1 396.4 L212.2 397.0 L214.4 397.5 L216.6 398.1 L218.8 398.7 L221.0 399.2 L223.2 399.7 L225.4 400.3 L227.6 400.8 L229.7 401.3 L231.9 401.8 L234.1 402.3 L236.3 402.8 L238.5 403.3 L240.7 403.7 L242.9 404.2 L245.1 404.7 L247.3 405.1 L249.4 405.6 L251.6 406.0 L253.8 406.4 L256.0 406.9 L258.2 407.3 L260.4 407.7 L262.6 408.1 L264.8 408.6 L267.0 409.0 L269.1 409.4 L271.3 409.8 L273.5 410.2 L275.7 410.6 L277.9 411.0 L280.1 411.4 L282.3 411.7 L284.5 412.1 L286.6 412.5 L288.8 412.9 L291.0 413.3 L293.2 413.7 L295.4 414.0 L297.6 414.4 L299.8 414.8 L302.0 415.2 L304.2 415.5 L306.3 415.9 L308.5 416.3 L310.7 416.6 L312.9 417.0 L315.1 417.4 L317.3 417.8 L319.5 418.1 L321.7 418.5 L323.9 418.9 L326.0 419.2 L328.2 419.6 L330.4 420.0 L332.6 420.3 L334.8 420.7 L337.0 421.1 L339.2 421.4 L341.4 421.8 L343.5 422.2 L345.7 422.5 L347.9 422.9 L350.1 423.3 L352.3 423.7 L354.5 424.0 L356.7 424.4 L358.9 424.8 L361.1 425.2 L363.2 425.5 L365.4 425.9 L367.6 426.3 L369.8 426.7 L372.0 427.1" fill="none" stroke="#000" stroke-width="1.30" stroke-dasharray="1.4 1.15"/>
<path d="M66.0 323.1 L68.2 328.5 L70.4 333.1 L72.6 337.1 L74.8 340.7 L77.0 343.9 L79.2 346.9 L81.4 349.6 L83.6 352.1 L85.8 354.5 L88.0 356.7 L90.2 358.8 L92.4 360.8 L94.6 362.6 L96.8 364.4 L99.0 366.1 L101.2 367.8 L103.4 369.3 L105.6 370.9 L107.8 372.3 L110.0 373.7 L112.2 375.1 L114.4 376.4 L116.6 377.7 L118.8 378.9 L121.0 380.1 L123.2 381.3 L125.4 382.4 L127.6 383.5 L129.8 384.6 L132.0 385.6 L134.2 386.6 L136.4 387.6 L138.6 388.6 L140.8 389.6 L143.1 390.5 L145.3 391.4 L147.5 392.3 L149.7 393.2 L151.9 394.1 L154.1 394.9 L156.3 395.7 L158.5 396.5 L160.7 397.3 L162.9 398.1 L165.1 398.9 L167.3 399.6 L169.5 400.4 L171.7 401.1 L173.9 401.8 L176.1 402.6 L178.3 403.3 L180.5 403.9 L182.7 404.6 L184.9 405.3 L187.1 405.9 L189.3 406.6 L191.5 407.2 L193.7 407.9 L195.9 408.5 L198.1 409.1 L200.3 409.7 L202.5 410.3 L204.7 410.9 L206.9 411.5 L209.1 412.0 L211.3 412.6 L213.5 413.2 L215.7 413.7 L217.9 414.3 L220.1 414.8 L222.3 415.3 L224.5 415.9 L226.7 416.4 L228.9 416.9 L231.1 417.4 L233.3 417.9 L235.5 418.4 L237.7 418.9 L239.9 419.4 L242.1 419.9 L244.3 420.4 L246.5 420.8 L248.7 421.3 L250.9 421.8 L253.1 422.2 L255.3 422.7 L257.5 423.1 L259.7 423.6 L261.9 424.0 L264.1 424.5 L266.3 424.9 L268.5 425.3 L270.7 425.8 L272.9 426.2 L275.1 426.6 L277.3 427.0 L279.5 427.4 L281.7 427.8 L283.9 428.2 L286.1 428.6 L288.3 429.0 L290.5 429.4 L292.7 429.8 L294.9 430.2 L297.2 430.6 L299.4 431.0 L301.6 431.3 L303.8 431.7 L306.0 432.1 L308.2 432.5 L310.4 432.8 L312.6 433.2 L314.8 433.5 L317.0 433.9 L319.2 434.3 L321.4 434.6 L323.6 435.0 L325.8 435.3 L328.0 435.6 L330.2 436.0 L332.4 436.3 L334.6 436.7 L336.8 437.0 L339.0 437.3 L341.2 437.7 L343.4 438.0 L345.6 438.3 L347.8 438.6 L350.0 439.0 L352.2 439.3 L354.4 439.6 L356.6 439.9 L358.8 440.2 L361.0 440.5 L363.2 440.8 L365.4 441.1 L367.6 441.4 L369.8 441.7 L372.0 442.0" fill="none" stroke="#000" stroke-width="1.10" stroke-dasharray="4.6 2.1 1.2 2.1"/>
<path d="M59.2 341.0 L61.5 344.8 L63.7 349.2 L66.0 353.6 L68.2 357.7 L70.5 361.4 L72.7 364.7 L75.0 367.6 L77.2 370.3 L79.5 372.8 L81.7 375.0 L84.0 377.0 L86.2 378.9 L88.5 380.6 L90.7 382.2 L93.0 383.7 L95.2 385.2 L97.5 386.5 L99.7 387.8 L102.0 389.0 L104.2 390.2 L106.5 391.3 L108.7 392.4 L111.0 393.4 L113.2 394.4 L115.5 395.4 L117.7 396.4 L120.0 397.3 L122.2 398.2 L124.5 399.1 L126.7 400.0 L129.0 400.8 L131.2 401.7 L133.5 402.5 L135.7 403.3 L138.0 404.1 L140.2 404.9 L142.5 405.7 L144.7 406.4 L147.0 407.2 L149.2 407.9 L151.5 408.7 L153.7 409.4 L156.0 410.1 L158.2 410.9 L160.5 411.6 L162.7 412.3 L165.0 413.0 L167.2 413.7 L169.5 414.3 L171.7 415.0 L174.0 415.7 L176.2 416.4 L178.5 417.0 L180.7 417.7 L183.0 418.3 L185.2 419.0 L187.5 419.6 L189.7 420.2 L192.0 420.9 L194.2 421.5 L196.5 422.1 L198.7 422.7 L201.0 423.3 L203.2 423.9 L205.5 424.5 L207.7 425.1 L210.0 425.7 L212.2 426.3 L214.5 426.9 L216.7 427.4 L219.0 428.0 L221.2 428.6 L223.5 429.1 L225.7 429.7 L228.0 430.2 L230.2 430.8 L232.5 431.3 L234.7 431.9 L237.0 432.4 L239.2 432.9 L241.5 433.5 L243.7 434.0 L246.0 434.5 L248.2 435.0 L250.5 435.5 L252.7 436.0 L255.0 436.5 L257.2 437.0 L259.5 437.5 L261.7 438.0 L264.0 438.5 L266.2 439.0 L268.5 439.4 L270.7 439.9 L273.0 440.4 L275.2 440.9 L277.5 441.3 L279.7 441.8 L282.0 442.2 L284.2 442.7 L286.5 443.1 L288.7 443.6 L291.0 444.0 L293.2 444.4 L295.5 444.9 L297.7 445.3 L300.0 445.7 L302.2 446.1 L304.5 446.6 L306.7 447.0 L309.0 447.4 L311.2 447.8 L313.5 448.2 L315.7 448.6 L318.0 449.0 L320.2 449.4 L322.5 449.8 L324.7 450.1 L327.0 450.5 L329.2 450.9 L331.5 451.3 L333.7 451.6 L336.0 452.0 L338.2 452.4 L340.5 452.7 L342.7 453.1 L345.0 453.4 L347.2 453.8 L349.5 454.1 L351.7 454.5 L354.0 454.8 L356.2 455.1 L358.5 455.5 L360.7 455.8 L363.0 456.1 L365.2 456.5 L367.5 456.8 L369.7 457.1 L372.0 457.4" fill="none" stroke="#000" stroke-width="1.10" stroke-dasharray="4 1 1.2 1 1.2 1"/>
<path d="M63.0 348.6 L65.2 354.0 L67.4 358.0 L69.6 361.2 L71.9 363.8 L74.1 366.0 L76.3 367.9 L78.5 369.7 L80.7 371.3 L82.9 372.8 L85.2 374.2 L87.4 375.5 L89.6 376.8 L91.8 378.0 L94.0 379.2 L96.2 380.3 L98.5 381.4 L100.7 382.5 L102.9 383.5 L105.1 384.5 L107.3 385.5 L109.5 386.5 L111.7 387.4 L114.0 388.3 L116.2 389.2 L118.4 390.1 L120.6 391.0 L122.8 391.9 L125.0 392.7 L127.3 393.5 L129.5 394.3 L131.7 395.2 L133.9 395.9 L136.1 396.7 L138.3 397.5 L140.6 398.2 L142.8 399.0 L145.0 399.7 L147.2 400.5 L149.4 401.2 L151.6 401.9 L153.8 402.6 L156.1 403.3 L158.3 404.0 L160.5 404.6 L162.7 405.3 L164.9 406.0 L167.1 406.6 L169.4 407.3 L171.6 407.9 L173.8 408.6 L176.0 409.2 L178.2 409.8 L180.4 410.5 L182.7 411.1 L184.9 411.7 L187.1 412.3 L189.3 412.9 L191.5 413.5 L193.7 414.1 L195.9 414.7 L198.2 415.3 L200.4 415.9 L202.6 416.5 L204.8 417.0 L207.0 417.6 L209.2 418.2 L211.5 418.8 L213.7 419.3 L215.9 419.9 L218.1 420.5 L220.3 421.0 L222.5 421.6 L224.8 422.1 L227.0 422.7 L229.2 423.2 L231.4 423.8 L233.6 424.3 L235.8 424.9 L238.1 425.4 L240.3 425.9 L242.5 426.5 L244.7 427.0 L246.9 427.5 L249.1 428.1 L251.3 428.6 L253.6 429.1 L255.8 429.7 L258.0 430.2 L260.2 430.7 L262.4 431.2 L264.6 431.7 L266.9 432.3 L269.1 432.8 L271.3 433.3 L273.5 433.8 L275.7 434.3 L277.9 434.8 L280.2 435.4 L282.4 435.9 L284.6 436.4 L286.8 436.9 L289.0 437.4 L291.2 437.9 L293.4 438.4 L295.7 438.9 L297.9 439.4 L300.1 439.9 L302.3 440.4 L304.5 441.0 L306.7 441.5 L309.0 442.0 L311.2 442.5 L313.4 443.0 L315.6 443.5 L317.8 444.0 L320.0 444.5 L322.3 445.0 L324.5 445.5 L326.7 446.0 L328.9 446.5 L331.1 447.0 L333.3 447.5 L335.5 448.0 L337.8 448.5 L340.0 449.0 L342.2 449.5 L344.4 450.0 L346.6 450.5 L348.8 451.0 L351.1 451.4 L353.3 451.9 L355.5 452.4 L357.7 452.9 L359.9 453.4 L362.1 453.9 L364.4 454.4 L366.6 454.9 L368.8 455.4 L371.0 455.9" fill="none" stroke="#000" stroke-width="1.10" stroke-dasharray="4 4.2"/>
<circle cx="308.5" cy="295.5" r="3.60" fill="#000" stroke="#000" stroke-width="0.40"/>
<rect x="305.5" y="305.8" width="6.0" height="6.0" fill="#fff" stroke="#000" stroke-width="0.85"/>
<path d="M308.5 317.8 L312.7 322.0 L308.5 326.2 L304.3 322.0Z" fill="#fff" stroke="#000" stroke-width="0.85"/>
<path d="M308.5 330.9 L312.6 338.1 L304.4 338.1Z" fill="#000" stroke="#000" stroke-width="0.40" stroke-linejoin="miter"/>
<text x="323.5" y="299.0" font-size="10.6">P10</text>
<text x="323.5" y="312.2" font-size="10.6">P20</text>
<text x="323.5" y="325.7" font-size="10.6">P40</text>
<text x="323.5" y="339.0" font-size="10.6">P60</text>
<path d="M296.3 348.3 L321.3 348.3" fill="none" stroke="#000" stroke-width="1.05" stroke-dasharray="1.4 1.15"/>
<text x="323.5" y="352.2" font-size="10.6">P10Fitting line</text>
<path d="M296.3 362.0 L321.3 362.0" fill="none" stroke="#000" stroke-width="1.05" stroke-dasharray="4.6 2.1 1.2 2.1"/>
<text x="323.5" y="365.4" font-size="10.6">P20Fitting line</text>
<path d="M296.3 375.0 L321.3 375.0" fill="none" stroke="#000" stroke-width="1.05" stroke-dasharray="4 1 1.2 1 1.2 1"/>
<text x="323.5" y="378.6" font-size="10.6">P40Fitting line</text>
<path d="M296.3 388.3 L321.3 388.3" fill="none" stroke="#000" stroke-width="1.05" stroke-dasharray="4 4.2"/>
<text x="323.5" y="391.9" font-size="10.6">P60Fitting line</text>
<text class="n" transform="translate(212.6,543.8) scale(1.03,1.12)" font-size="15" text-anchor="middle">(<tspan font-weight="bold">c</tspan>)</text>
</g>
</svg>
</body></html>
